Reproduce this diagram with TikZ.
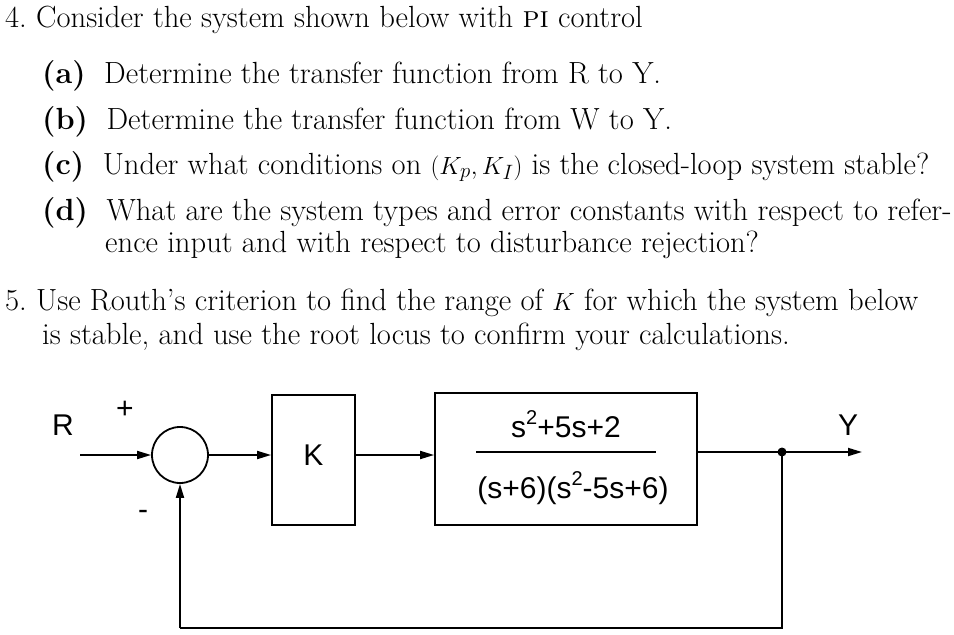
\documentclass[tikz,border=0pt]{standalone}
\usepackage{fontspec}
\newfontfamily\diag{Liberation Sans}
\usetikzlibrary{arrows.meta}
\newcommand{\supx}[1]{\raisebox{0.8ex}{\fontsize{20}{22}\selectfont #1}}
\begin{document}
\begin{tikzpicture}[x=1pt,y=-1pt,
  txt/.style={anchor=base west,inner sep=0pt,font=\fontsize{30.6}{36}\selectfont},
  dg/.style={inner sep=0pt,font=\diag\fontsize{30}{36}\selectfont},
  blk/.style={draw,line width=1.8pt,inner sep=0pt},
  sig/.style={line width=1.8pt,-{Triangle[length=14pt,width=8pt]}},
  ln/.style={line width=1.8pt}]
\useasboundingbox (0,0) rectangle (954,635);
\node[txt] (l1) at (5,27) {4.~Consider the system shown below with \textsc{pi} control};
\node[txt] (a1) at (42,83) {\textbf{(a)}~~Determine the transfer function from R to Y.};
\node[txt] (b1) at (42,129) {\textbf{(b)}~~Determine the transfer function from W to Y.};
\node[txt] (c1) at (42,174) {\textbf{(c)}~~Under what conditions on $(K_p,K_I)$ is the closed-loop system stable?};
\node[txt] (d1) at (42,220) {\textbf{(d)}~~What are the system types and error constants with respect to refer-};
\node[txt] (d2) at (105,252) {ence input and with respect to disturbance rejection?};
\node[txt] (f1) at (5,310) {5.~Use Routh's criterion to find the range of $K$ for which the system below};
\node[txt] (f2) at (42,344) {is stable, and use the root locus to confirm your calculations.};
% diagram
\coordinate (rin) at (80,455);
\node[dg] (R) at (63,425) {R};
\node[dg] (plus) at (125,410) {+};
\node[dg] (minus) at (143,515) {-};
\node[draw,circle,line width=1.8pt,minimum size=56pt,inner sep=0pt] (sum) at (180,455) {};
\node[blk,minimum width=83pt,minimum height=130pt] (K) at (313.5,460) {};
\node[dg] (Kt) at (313.5,455) {K};
\node[blk,minimum width=262pt,minimum height=132pt] (G) at (566,459) {};
\draw[ln] (476,452) -- (656,452);
\node[dg] (num) at (566,424) {s\supx{2}+5s+2};
\node[dg] (den) at (573,488) {(s+6)(s\supx{2}-5s+6)};
\coordinate (dot) at (782,452);
\coordinate (yout) at (862,452);
\node[dg] (Y) at (848,425) {Y};
\coordinate (c1b) at (782,628);
\coordinate (c2b) at (180,628);
\draw[sig] (rin) -- (sum.west);
\draw[sig] (sum.east) -- (K.west |- sum.east);
\draw[sig] (K.east |- sum.east) -- (G.west |- sum.east);
\draw[sig] (G.east |- dot) -- (yout);
\fill (dot) circle (4.5pt);
\draw[ln] (dot) -- (c1b) -- (c2b);
\draw[sig] (c2b) -- (sum.south);
\end{tikzpicture}
\end{document}
